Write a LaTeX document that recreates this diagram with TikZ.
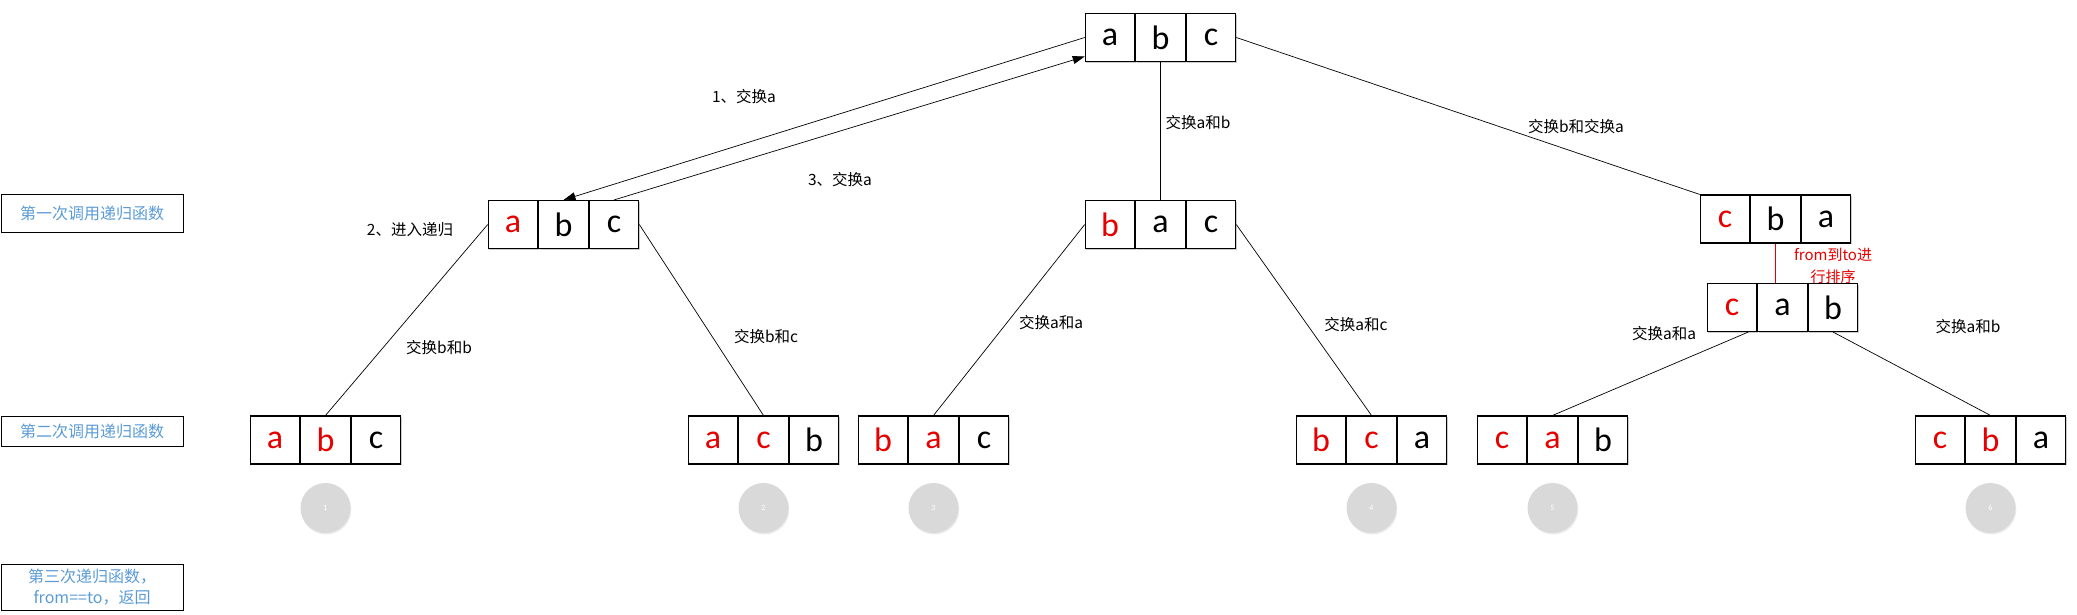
\documentclass[tikz,border=0pt]{standalone}
\usepackage{fontspec}
\setmainfont{Carlito}
\newfontfamily\cjk{Noto Sans CJK SC}
\usetikzlibrary{arrows.meta,shadows,calc}
\definecolor{cellred}{RGB}{230,0,0}
\definecolor{labblue}{RGB}{91,155,213}
\definecolor{numgray}{RGB}{217,217,217}
\newcommand\redtxt[1]{\textcolor{cellred}{#1}}
\newcommand\tribox[6]{%
  \node[cell] (#1-1) at ({#2+25},#3) {#4};
  \node[cell] (#1-2) at ({#2+75.5},#3) {#5};
  \node[cell] (#1-3) at ({#2+126},#3) {#6};}
\tikzset{
  cell/.style={draw, line width=1.1pt, fill=white, minimum width=49.5pt, minimum height=48pt,
    inner sep=0pt, font=\fontsize{34}{34}\selectfont,
    drop shadow={shadow xshift=1.2pt, shadow yshift=-1.2pt, fill=black, opacity=0.2}},
  elab/.style={font=\cjk\fontsize{15.5}{18}\selectfont, inner sep=1pt},
  sidebox/.style={draw, line width=0.9pt, text=labblue, minimum width=182pt, align=center,
    inner sep=2pt, font=\cjk\fontsize{16}{21}\selectfont},
  num/.style={circle, fill=numgray, minimum size=50pt, inner sep=0pt, text=white,
    font=\fontsize{8}{8}\selectfont,
    drop shadow={shadow xshift=0.8pt, shadow yshift=-1.5pt, fill=black, opacity=0.08}},
  conn/.style={draw, line width=0.7pt},
  arr/.style={conn, -{Triangle[length=12pt,width=8pt]}}
}
\begin{document}
\begin{tikzpicture}[x=1pt, y=-1pt]
\useasboundingbox (0,0) rectangle (2077,615);
% side labels
\node[sidebox, minimum height=38pt] (s1) at (92,213) {第一次调用递归函数};
\node[sidebox, minimum height=30pt] (s2) at (92,431) {第二次调用递归函数};
\node[sidebox, minimum height=46pt] (s3) at (92,587) {第三次递归函数，\\from==to，返回};
% boxes
\tribox{T}{1085}{37.5}{a}{b}{c}
\tribox{L}{488}{224.5}{\redtxt{a}}{b}{c}
\tribox{M}{1085}{224.5}{\redtxt{b}}{a}{c}
\tribox{R}{1700}{219}{\redtxt{c}}{b}{a}
\tribox{Q}{1707}{307.5}{\redtxt{c}}{a}{b}
\tribox{B1}{250}{440}{\redtxt{a}}{\redtxt{b}}{c}
\tribox{B2}{688}{440}{\redtxt{a}}{\redtxt{c}}{b}
\tribox{B3}{858}{440}{\redtxt{b}}{\redtxt{a}}{c}
\tribox{B4}{1296}{440}{\redtxt{b}}{\redtxt{c}}{a}
\tribox{B5}{1477}{440}{\redtxt{c}}{\redtxt{a}}{b}
\tribox{B6}{1915}{440}{\redtxt{c}}{\redtxt{b}}{a}
% numbered circles
\foreach \k in {1,...,6}{
  \node[num] (n\k) at ([yshift=-68pt]B\k-2.center) {\k};
}
% connectors
\draw[arr] (T-1.west) -- (L-2.north);
\draw[arr] (L-3.north) -- ([yshift=-19pt]T-1.west);
\draw[conn] (T-2.south) -- (M-2.north);
\draw[conn] (T-3.east) -- (R-1.north west);
\draw[conn] (L-1.west) -- (B1-2.north);
\draw[conn] (L-3.east) -- (B2-2.north);
\draw[conn] (M-1.west) -- (B3-2.north);
\draw[conn] (M-3.east) -- (B4-2.north);
\draw[conn, draw=cellred] (R-2.south) -- (R-2.south |- Q-2.north);
\draw[conn] ([xshift=-9pt]Q-1.south east) -- (B5-2.north);
\draw[conn] (Q-3.south) -- (B6-2.north);
% edge labels
\node[elab] (e1) at (744,97) {1、交换a};
\node[elab] (e2) at (410,230) {2、进入递归};
\node[elab] (e3) at (840,180) {3、交换a};
\node[elab] (e4) at (1198,123) {交换a和b};
\node[elab] (e5) at (1576,127) {交换b和交换a};
\node[elab, text=cellred, align=center, font=\cjk\fontsize{15}{22}\selectfont] (e6) at (1833,265.5) {from到to进\\行排序};
\node[elab] (e7) at (439,348) {交换b和b};
\node[elab] (e8) at (766,337) {交换b和c};
\node[elab] (e9) at (1051,323) {交换a和a};
\node[elab] (e10) at (1356,325) {交换a和c};
\node[elab] (e11) at (1664,334) {交换a和a};
\node[elab] (e12) at (1968,327) {交换a和b};
\end{tikzpicture}
\end{document}
